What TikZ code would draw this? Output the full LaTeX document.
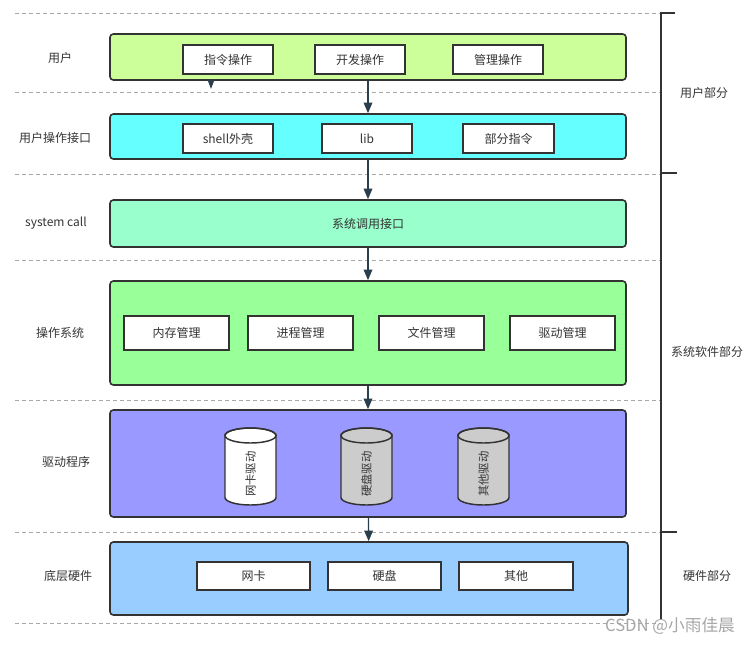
\documentclass[tikz,border=0pt]{standalone}
\usepackage{fontspec}
\setmainfont{Noto Sans CJK SC}
\usetikzlibrary{positioning,fit,shapes.geometric,arrows.meta}
\definecolor{edgegray}{HTML}{333333}
\definecolor{textgray}{HTML}{333333}
\definecolor{dashgray}{HTML}{A8A8A8}
\definecolor{arrowdark}{HTML}{2B3E4C}
\definecolor{userfill}{HTML}{CCFF99}
\definecolor{ifacefill}{HTML}{66FFFF}
\definecolor{callfill}{HTML}{99FFCC}
\definecolor{osfill}{HTML}{99FF99}
\definecolor{drvfill}{HTML}{9999FF}
\definecolor{hwfill}{HTML}{99CCFF}
\definecolor{drumgray}{HTML}{CCCCCC}
\tikzset{
  layer/.style={draw=edgegray, line width=1.2pt, rounded corners=2.5pt, inner sep=0pt},
  item/.style={draw=edgegray, fill=white, line width=1.2pt, inner sep=0pt},
  itemtext/.style={font=\fontsize{9}{11}\selectfont, text=textgray, inner sep=0pt},
  drumline/.style={draw=edgegray, line width=1.1pt},
  drumtext/.style={rotate=90, font=\fontsize{8.5}{10}\selectfont, text=textgray, inner sep=0pt},
  lbl/.style={font=\fontsize{9}{11}\selectfont, text=textgray, inner sep=1pt},
  sep/.style={draw=dashgray, line width=0.75pt, dash pattern=on 3pt off 2.25pt},
  brace/.style={draw=edgegray, line width=1.5pt},
  flow/.style={draw=arrowdark, line width=1pt, -{Triangle[length=8pt,width=6.5pt]}},
}
\begin{document}
\begin{tikzpicture}[x=0.75pt,y=-0.75pt]
\useasboundingbox (0,0) rectangle (755,644);

\foreach \yy in {13,92,174,260,400,532,623}
  \draw[sep] (15,\yy) -- (660,\yy);

\draw[brace] (675,13) -- (661,13) -- (661,620);
\draw[brace] (661,173) -- (677,173);
\draw[brace] (661,532) -- (677,532);

\node[layer, fill=userfill, fit={(110,34) (626,80)}] (user) {};
\node[layer, fill=ifacefill, fit={(110,114) (626,159)}] (iface) {};
\node[layer, fill=callfill, fit={(110,200) (626,247)}, label={[itemtext]center:系统调用接口}] (call) {};
\node[layer, fill=osfill, fit={(110,281) (626,385)}] (os) {};
\node[layer, fill=drvfill, fit={(110,410) (626,517)}] (drv) {};
\node[layer, fill=hwfill, fit={(110,542) (628,615)}] (hw) {};

\node[item, fit={(183,45) (273,74)}, label={[itemtext]center:指令操作}] (cmdop) {};
\node[item, fit={(315,45) (405,74)}, label={[itemtext]center:开发操作}] (devop) {};
\node[item, fit={(453,45) (543,74)}, label={[itemtext]center:管理操作}] (mgmtop) {};

\node[item, fit={(183,124) (273,153)}, label={[itemtext]center:shell外壳}] (shell) {};
\node[item, fit={(322,124) (412,153)}, label={[itemtext]center:lib}] (lib) {};
\node[item, fit={(463,124) (554,153)}, label={[itemtext]center:部分指令}] (partcmd) {};

\node[item, fit={(124,316) (229,350)}, label={[itemtext]center:内存管理}] (memmgr) {};
\node[item, fit={(248,316) (353,350)}, label={[itemtext]center:进程管理}] (procmgr) {};
\node[item, fit={(379,316) (484,350)}, label={[itemtext]center:文件管理}] (filemgr) {};
\node[item, fit={(510,316) (615,350)}, label={[itemtext]center:驱动管理}] (drvmgr) {};

\foreach \cx/\cfill/\ctext/\cname in {250.5/white/网卡驱动/nicdrv, 366.5/drumgray/硬盘驱动/diskdrv, 483.5/drumgray/其他驱动/otherdrv}{
  \filldraw[drumline, fill=\cfill] (\cx-25.5,435.5) -- (\cx-25.5,497.5)
    arc[start angle=180, end angle=360, x radius=19.125pt, y radius=5.625pt]
    -- (\cx+25.5,435.5)
    arc[start angle=0, end angle=180, x radius=19.125pt, y radius=5.625pt] -- cycle;
  \draw[drumline] (\cx,435.5) ellipse[x radius=19.125pt, y radius=5.625pt];
  \node[drumtext] (\cname) at (\cx,474) {\ctext};
}

\node[item, fit={(197,562) (310,590)}, label={[itemtext]center:网卡}] (nic) {};
\node[item, fit={(328,562) (441,590)}, label={[itemtext]center:硬盘}] (disk) {};
\node[item, fit={(459,562) (573,590)}, label={[itemtext]center:其他}] (other) {};

\node[lbl] (lbluser) at (60,58) {用户};
\node[lbl] (lbliface) at (55,138) {用户操作接口};
\node[lbl] (lblcall) at (56,223) {system call};
\node[lbl] (lblos) at (60,333) {操作系统};
\node[lbl] (lbldrv) at (66,462) {驱动程序};
\node[lbl] (lblhw) at (68,576) {底层硬件};

\node[lbl] (partuser) at (704,93) {用户部分};
\node[lbl] (partsys) at (707,352) {系统软件部分};
\node[lbl] (parthw) at (707,576) {硬件部分};

\coordinate (tipend) at (211,89);
\draw[draw=arrowdark, line width=1pt, -{Triangle[length=7pt,width=5pt]}] (user.south -| tipend) -- (tipend);
\draw[flow] (user) -- (iface);
\draw[flow] (iface) -- (call);
\draw[flow] (call) -- (os);
\draw[flow] (os) -- (drv);
\draw[flow] (drv) -- (hw);

\node[font=\fontsize{12.5}{14}\selectfont, text=gray!70] (mark) at (670,626) {CSDN @小雨佳晨};
\end{tikzpicture}
\end{document}
